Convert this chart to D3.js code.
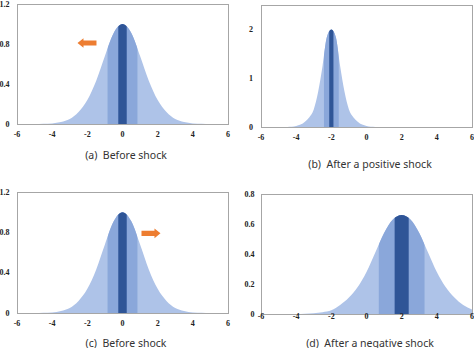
<!DOCTYPE html>
<html>
<head>
<meta charset="utf-8">
<script src="https://cdn.jsdelivr.net/npm/d3@7/dist/d3.min.js"></script>
<style>
  html, body { margin: 0; padding: 0; background: #fff; }
  svg { display: block; }
</style>
</head>
<body>
<svg id="chart" width="474" height="348"></svg>
<script>
// ---- data ----
const xTicks = [-6, -4, -2, 0, 2, 4, 6];

// Panels (a) and (c): before shock
const xBefore = [-6, -5.5, -5, -4.5, -4, -3.5, -3, -2.5, -2, -1.5, -1, -0.5, 0, 0.5, 1, 1.5, 2, 2.5, 3, 3.5, 4, 4.5, 5, 5.5, 6];
const yBefore = [0, 0, 0, 0.002, 0.006, 0.02, 0.05, 0.12, 0.24, 0.43, 0.68, 0.91, 1.0, 0.91, 0.68, 0.43, 0.24, 0.12, 0.05, 0.02, 0.006, 0.002, 0, 0, 0];
const bandInnerBefore = [-0.24, 0.24];
const bandOuterBefore = [-0.85, 0.85];
const yTicksBefore = [0, 0.4, 0.8, 1.2];

// Panel (b): after a positive shock
const xPositive = [-6, -4.5, -4.25, -4, -3.75, -3.5, -3.25, -3, -2.75, -2.5, -2.25, -2, -1.75, -1.5, -1.25, -1, -0.75, -0.5, -0.25, 0, 0.25, 0.5, 6];
const yPositive = [0, 0, 0.003, 0.02, 0.05, 0.11, 0.2, 0.36, 0.72, 1.25, 1.85, 2.0, 1.85, 1.25, 0.72, 0.36, 0.2, 0.11, 0.05, 0.02, 0.003, 0, 0];
const bandInnerPositive = [-2.12, -1.88];
const bandOuterPositive = [-2.42, -1.58];
const yTicksPositive = [0, 1, 2];

// Panel (d): after a negative shock
const xNegative = [-6, -5.5, -5, -4.5, -4, -3.5, -3, -2.5, -2, -1.5, -1, -0.5, 0, 0.5, 1, 1.5, 2, 2.5, 3, 3.5, 4, 4.5, 5, 5.5, 6];
const yNegative = [0, 0, 0, 0, 0, 0.002, 0.005, 0.012, 0.025, 0.06, 0.11, 0.18, 0.28, 0.41, 0.54, 0.63, 0.66, 0.63, 0.54, 0.41, 0.28, 0.18, 0.11, 0.06, 0.03];
const bandInnerNegative = [1.6, 2.4];
const bandOuterNegative = [0.7, 3.3];
const yTicksNegative = [0, 0.2, 0.4, 0.6, 0.8];

// shift arrows (x from, x to, y level) in data units
const arrowBefore1 = [-1.48, -2.56, 0.81];
const arrowBefore2 = [1.08, 2.16, 0.79];

const captions = ["(a)  Before shock", "(b)  After a positive shock", "(c)  Before shock", "(d)  After a negative shock"];

// ---- styles ----
const C_LIGHT = "#aec3e8";
const C_MID = "#8aa7da";
const C_DARK = "#2f5597";
const C_ARROW = "#ed7d31";
const C_BOX = "#a6a6a6";

const svg = d3.select("#chart");

const panels = [
  { id: "a", xs: xBefore, ys: yBefore, inner: bandInnerBefore, outer: bandOuterBefore, yMax: 1.2, yTicks: yTicksBefore,
    x0: 17, x1: 228, yT: 4, yB: 124, yLabX: 9.5, xLabY: 136.5, capX: 126, capY: 158.5, arrow: arrowBefore1 },
  { id: "b", xs: xPositive, ys: yPositive, inner: bandInnerPositive, outer: bandOuterPositive, yMax: 2.5, yTicks: yTicksPositive,
    x0: 261, x1: 472, yT: 5, yB: 127, yLabX: 253, xLabY: 139.5, capX: 370, capY: 167.5, arrow: null },
  { id: "c", xs: xBefore, ys: yBefore, inner: bandInnerBefore, outer: bandOuterBefore, yMax: 1.2, yTicks: yTicksBefore,
    x0: 17, x1: 228, yT: 192, yB: 313, yLabX: 9.5, xLabY: 325.5, capX: 126, capY: 346.5, arrow: arrowBefore2 },
  { id: "d", xs: xNegative, ys: yNegative, inner: bandInnerNegative, outer: bandOuterNegative, yMax: 0.8, yTicks: yTicksNegative,
    x0: 261, x1: 472, yT: 194, yB: 314, yLabX: 254.5, xLabY: 319, capX: 370, capY: 346.5, arrow: null }
];

panels.forEach((p, i) => {
  const x = d3.scaleLinear().domain([-6, 6]).range([p.x0, p.x1]);
  const y = d3.scaleLinear().domain([0, p.yMax]).range([p.yB, p.yT]);
  const g = svg.append("g");
  const pts = p.xs.map((v, k) => [v, p.ys[k]]);

  const area = d3.area()
    .x(d => x(d[0]))
    .y0(y(0))
    .y1(d => y(d[1]))
    .curve(d3.curveMonotoneX);

  const clipId = "clip-" + p.id;
  g.append("clipPath").attr("id", clipId)
    .append("path").attr("d", area(pts));

  g.append("path").attr("d", area(pts)).attr("fill", C_LIGHT);

  const bands = g.append("g").attr("clip-path", `url(#${clipId})`);
  bands.append("rect")
    .attr("x", x(p.outer[0])).attr("width", x(p.outer[1]) - x(p.outer[0]))
    .attr("y", p.yT).attr("height", p.yB - p.yT)
    .attr("fill", C_MID);
  bands.append("rect")
    .attr("x", x(p.inner[0])).attr("width", x(p.inner[1]) - x(p.inner[0]))
    .attr("y", p.yT).attr("height", p.yB - p.yT)
    .attr("fill", C_DARK);

  // frame
  g.append("rect")
    .attr("x", p.x0 + 0.5).attr("y", p.yT + 0.5)
    .attr("width", p.x1 - p.x0).attr("height", p.yB - p.yT)
    .attr("fill", "none").attr("stroke", C_BOX).attr("stroke-width", 1);

  // x tick labels
  g.selectAll("text.xt").data(xTicks).enter().append("text")
    .attr("class", "xt")
    .attr("x", d => x(d))
    .attr("y", p.xLabY)
    .attr("text-anchor", "middle")
    .attr("font-family", "'Liberation Serif', 'Times New Roman', serif")
    .attr("font-weight", "bold")
    .attr("font-size", 8)
    .attr("fill", "#222")
    .text(d => d);

  // y tick labels
  g.selectAll("text.yt").data(p.yTicks).enter().append("text")
    .attr("class", "yt")
    .attr("x", p.yLabX)
    .attr("y", d => y(d) + 2.5)
    .attr("text-anchor", "end")
    .attr("font-family", "'Liberation Serif', 'Times New Roman', serif")
    .attr("font-weight", "bold")
    .attr("font-size", 8)
    .attr("fill", "#222")
    .text(d => d);

  // arrow
  if (p.arrow) {
    const [xa, xb, yv] = p.arrow;
    const sx = x(xa), ex = x(xb), yy = y(yv);
    const dir = Math.sign(ex - sx);
    const headLen = 6, shaftH = 2.6, headH = 4.8;
    const hx = ex - dir * headLen;
    const pathStr = [
      [sx, yy - shaftH], [hx, yy - shaftH], [hx, yy - headH], [ex, yy],
      [hx, yy + headH], [hx, yy + shaftH], [sx, yy + shaftH]
    ].map((q, k) => (k ? "L" : "M") + q[0] + "," + q[1]).join("") + "Z";
    g.append("path").attr("d", pathStr).attr("fill", C_ARROW);
  }

  // caption
  svg.append("text")
    .attr("x", p.capX)
    .attr("y", p.capY)
    .attr("text-anchor", "middle")
    .attr("font-family", "'Noto Sans', 'Open Sans', sans-serif")
    .attr("font-size", 10.5)
    .attr("fill", "#333")
    .attr("xml:space", "preserve")
    .style("white-space", "pre")
    .text(captions[i]);
});
</script>
</body>
</html>
